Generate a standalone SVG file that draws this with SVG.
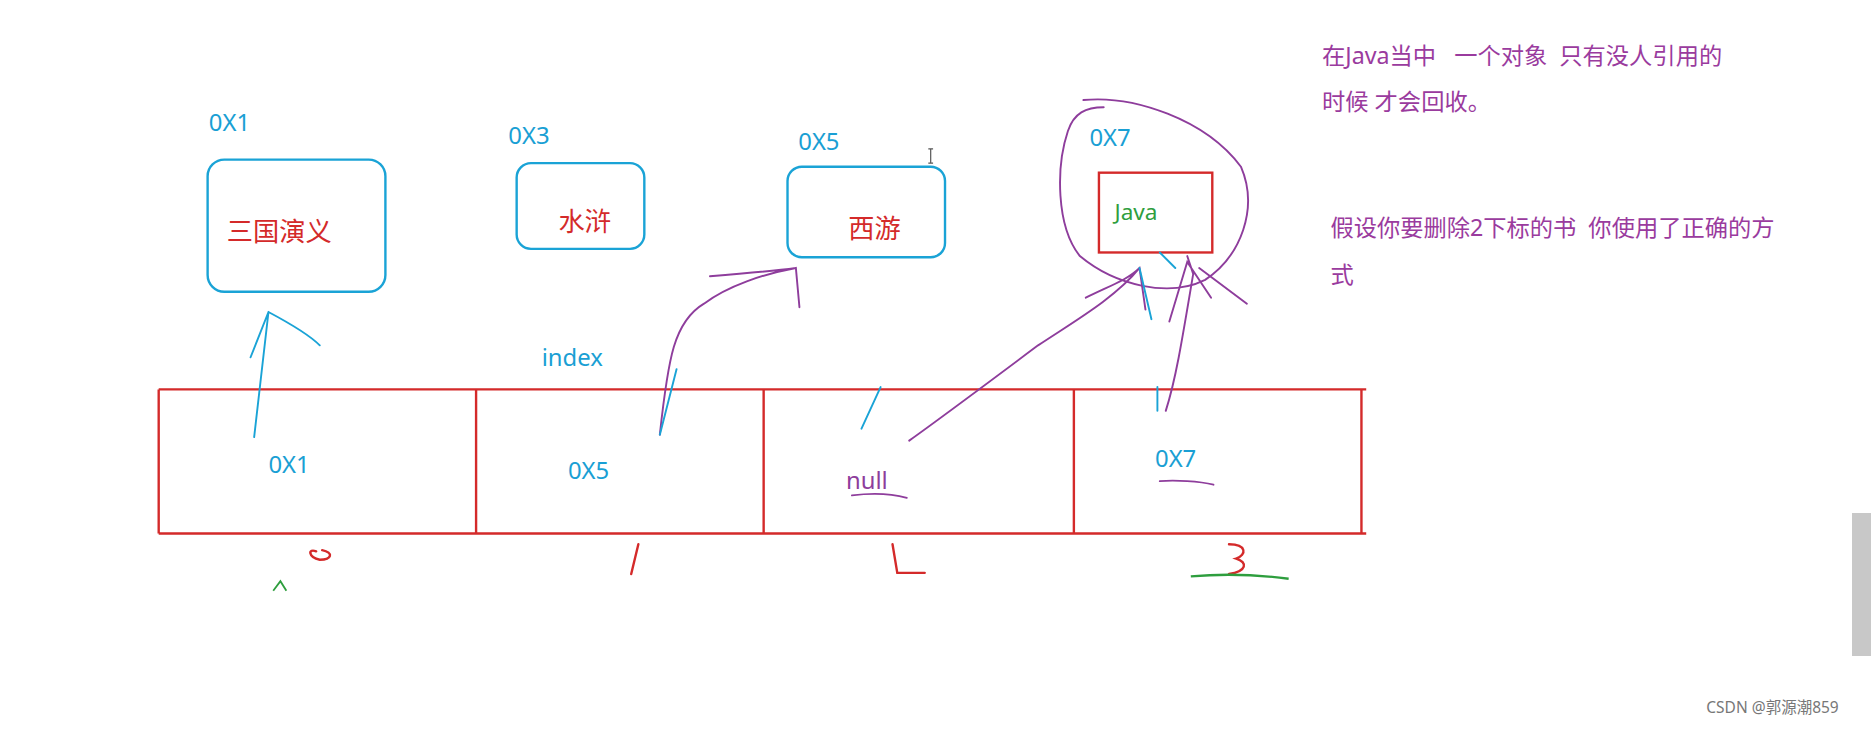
<svg xmlns="http://www.w3.org/2000/svg" width="1871" height="730" viewBox="0 0 1871 730">
<style>
.blue{fill:none;stroke:#1aa3d6;stroke-width:2;}
.lbl{font-family:"Noto Sans","Noto Sans CJK SC",sans-serif;font-size:20px;fill:#1a9fd4;}
.red{font-family:"Noto Sans","Noto Sans CJK SC",sans-serif;font-size:22px;fill:#d42a2a;}
.note{font-family:"Noto Sans","Noto Sans CJK SC",sans-serif;font-size:19.5px;fill:#9a3b9e;white-space:pre;}
.pur{fill:none;stroke:#8e3d9c;stroke-width:1.6;stroke-linecap:round;}
.cy{fill:none;stroke:#1aa3d6;stroke-width:1.6;stroke-linecap:round;}
.hand{fill:none;stroke:#d42a2a;stroke-width:2;stroke-linecap:round;}
</style>
<rect width="1871" height="730" fill="#fff"/>
<rect x="1852" y="513" width="19" height="143" fill="#c8c8c8"/>
<g transform="scale(1.1932,1.1909)">
<g id="node-sanguo"><rect class="blue" x="174" y="134" width="149" height="111" rx="14"/><text class="red" x="190" y="202">三国演义</text><text class="lbl" x="175" y="110">0X1</text></g>
<g id="node-shuihu"><rect class="blue" x="433" y="137" width="107" height="72" rx="12"/><text class="red" x="468" y="194">水浒</text><text class="lbl" x="426" y="121">0X3</text></g>
<g id="node-xiyou"><rect class="blue" x="660" y="140" width="132" height="76" rx="12"/><text class="red" x="711" y="200">西游</text><text class="lbl" x="669" y="126">0X5</text></g>
<g id="node-java"><rect x="921" y="145" width="95" height="67" fill="none" stroke="#d42a2a" stroke-width="2"/><text x="934" y="185" font-family="Noto Sans,sans-serif" font-size="19" fill="#2e9e3e">Java</text><text class="lbl" x="913" y="123">0X7</text>
<path class="pur" d="M908,84 C950,80 1010,100 1040,140 C1055,175 1040,215 1010,235 C980,250 935,240 905,215 C885,190 885,140 895,110 C900,95 910,90 925,90"/></g>
<g id="node-array">
<path d="M133,327H1145M133,448H1145M133,327V448M399,327V448M640,327V448M900,327V448M1141,327V448" stroke="#d42a2a" stroke-width="2" fill="none"/>
<text class="lbl" x="225" y="397">0X1</text><text class="lbl" x="476" y="402">0X5</text>
<text x="709" y="411" font-family="Noto Sans,sans-serif" font-size="20" fill="#8e3d9c">null</text>
<text class="lbl" x="968" y="392">0X7</text>
<text class="lbl" x="454" y="307">index</text>
<path class="pur" d="M714,416 C730,414 745,414 760,418"/>
<path class="pur" d="M972,404 C985,403 1005,404 1017,407"/>
</g>
<g id="connectors">
<path class="cy" d="M213,367 L225,262 M210,300 L225,262 C240,270 258,280 268,290"/>
<path class="pur" d="M553,365 C560,300 565,270 590,255 C610,240 640,230 667,225 M595,232 C620,230 645,228 667,225 L670,258"/>
<path class="cy" d="M567,310 L553,365 M738,325 L722,360"/>
<path class="pur" d="M762,370 C790,350 830,320 870,290 C900,270 935,250 955,225 M910,250 C930,240 945,235 955,225 L960,260"/>
<path class="cy" d="M955,225 L965,268 M972,212 L985,225"/>
<path class="pur" d="M977,345 C985,320 990,290 1000,230 L995,215 M980,270 L995,220 L1015,250 M1005,225 L1045,255"/>
<path class="cy" d="M970,325 L970,345"/>
</g>
<g id="bottom-marks">
<path class="hand" d="M265,463 C258,460 258,468 268,470 C278,470 280,464 270,462"/>
<path class="hand" d="M535,457 L529,482"/>
<path class="hand" d="M748,457 L752,481 L775,481"/>
<path class="hand" d="M1030,457 C1045,457 1045,466 1036,469 C1046,472 1045,480 1030,482"/>
<path d="M998,484 C1020,482 1050,482 1080,486" stroke="#2e9e3e" stroke-width="2" fill="none"/>
<path d="M229,496 L235,488 L240,496" stroke="#2e9e3e" stroke-width="1.5" fill="none"/>
</g>
<text class="note" x="1108" y="54">在Java当中   一个对象  只有没人引用的</text>
<text class="note" x="1108" y="92">时候 才会回收。</text>
<text class="note" x="1115" y="198">假设你要删除2下标的书  你使用了正确的方</text>
<text class="note" x="1115" y="238">式</text>
<path d="M780,125V137M778,125H782M778,137H782" stroke="#555" stroke-width="1"/>
<text x="1430" y="599" font-family="Noto Sans,Noto Sans CJK SC,sans-serif" font-size="13" fill="#777">CSDN @郭源潮859</text>
</g>
</svg>
